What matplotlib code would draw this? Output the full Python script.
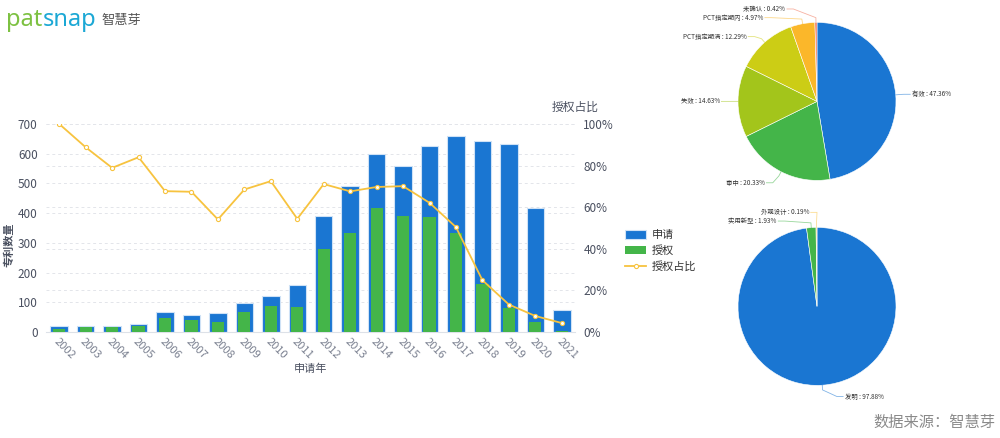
import matplotlib
matplotlib.use("Agg")
import matplotlib.pyplot as plt
import numpy as np

plt.rcParams['font.family'] = ['Noto Sans CJK SC', 'DejaVu Sans']

# data
years = [str(y) for y in range(2002, 2022)]
applications = [21, 21, 21, 26, 68, 57, 63, 97, 122, 158,
                391, 492, 598, 557, 625, 661, 643, 631, 418, 73]
granted = [11, 16, 16, 21, 46, 39, 35, 67, 88, 85,
           278, 332, 416, 391, 388, 332, 160, 82, 33, 3]
grant_ratio = [100, 88.8, 78.9, 84.0, 67.7, 67.4, 54.1, 68.5, 72.5, 54.4,
               71.1, 67.6, 69.7, 70.1, 62.1, 50.4, 24.9, 13.2, 7.7, 4.3]

status_labels = ['有效', '审中', '失效', 'PCT指定期满', 'PCT指定期内', '未确认']
status_values = [47.36, 20.33, 14.63, 12.29, 4.97, 0.42]
type_labels = ['发明', '实用新型', '外观设计']
type_values = [97.88, 1.93, 0.19]

BLUE = '#1a76d2'
GREEN = '#44b549'
LINE = '#f7c33f'
TICK = '#4a5060'
GRID = '#e3e5ea'
status_colors = [BLUE, GREEN, '#a3c51b', '#cccd15', '#fbb72a', '#f07256']
type_colors = [BLUE, GREEN, '#f9c13d']

fig = plt.figure(figsize=(10, 4.38), dpi=100)
rect = [0.046, 0.242, 0.529, 0.475]

# background axes only for the percent gridlines, so they stay behind the bars
bg = fig.add_axes(rect, zorder=0)
bg.set_xlim(0, 1)
bg.set_ylim(0, 100)
bg.set_yticks(range(0, 101, 20))
bg.grid(axis='y', color=GRID, linestyle=(0, (3, 3)), linewidth=0.7)
bg.tick_params(left=False, labelleft=False, bottom=False, labelbottom=False)
for s in bg.spines.values():
    s.set_visible(False)

# ---- bar + line chart ----
ax = fig.add_axes(rect, zorder=1)
ax.patch.set_visible(False)
x = np.arange(len(years))
ax.bar(x, applications, width=0.66, color=BLUE, edgecolor='#cfe2f6', linewidth=0.8,
       label='申请', zorder=2)
ax.bar(x, granted, width=0.46, color=GREEN, label='授权', zorder=3)
ax.set_xlim(-0.5, len(years) - 0.5)
ax.set_ylim(0, 700)
ax.set_yticks(range(0, 701, 100))
ax.grid(axis='y', color=GRID, linestyle=(0, (3, 3)), linewidth=0.7, zorder=0)
ax.set_axisbelow(True)
for s in ['top', 'right', 'left']:
    ax.spines[s].set_visible(False)
ax.spines['bottom'].set_color('#dde1e8')
ax.tick_params(axis='y', length=0, labelsize=8.5, labelcolor=TICK, pad=6)
ax.tick_params(axis='x', length=0, labelsize=8, labelcolor='#7a8090', pad=3)
ax.set_xticks(x)
ax.set_xticklabels(years, rotation=-45, ha='left', va='top', rotation_mode='anchor')
ax.set_ylabel('专利数量', fontsize=8, color=TICK, fontweight='bold')
ax.yaxis.set_label_coords(-0.058, 0.42)
ax.set_xlabel('申请年', fontsize=8, color=TICK, labelpad=2)

ax2 = ax.twinx()
ax2.set_zorder(2)
ax2.plot(x, grant_ratio, color=LINE, linewidth=1.3, marker='o', markersize=3,
         markerfacecolor='white', markeredgecolor=LINE, markeredgewidth=0.8,
         label='授权占比', zorder=4)
ax2.set_ylim(0, 100)
ax2.set_yticks(range(0, 101, 20))
ax2.set_yticklabels([f'{v}%' for v in range(0, 101, 20)])
for s in ax2.spines.values():
    s.set_visible(False)
ax2.tick_params(axis='y', length=0, labelsize=8.5, labelcolor=TICK, pad=6)
ax2.text(1.0, 1.05, '授权占比', transform=ax2.transAxes, ha='center', va='bottom',
         fontsize=8.5, color=TICK)

handles = ax.get_legend_handles_labels()[0] + ax2.get_legend_handles_labels()[0]
labels = ['申请', '授权', '授权占比']
fig.legend(handles, labels, loc='upper left', bbox_to_anchor=(0.615, 0.498),
           frameon=False, fontsize=8, handlelength=1.9, handleheight=0.85,
           labelspacing=0.45, handletextpad=0.5, labelcolor='#333333')

# ---- pies ----
def draw_pie(rect, values, labels, colors, label_pos):
    pax = fig.add_axes(rect)
    wedges, _ = pax.pie(values, colors=colors, startangle=90, counterclock=False,
                        wedgeprops=dict(edgecolor='white', linewidth=0.4))
    pax.set_aspect('equal')
    for w, lab, val, col, (tx, ty) in zip(wedges, labels, values, colors, label_pos):
        ang = np.deg2rad((w.theta1 + w.theta2) / 2)
        px, py = np.cos(ang), np.sin(ang)
        ex, ey = 1.06 * px, 1.06 * py
        right = tx > 0
        ox = tx - 0.08 if right else tx + 0.08
        pax.plot([px, ex, ox, tx], [py, ey, ty, ty], color=col, alpha=0.55, lw=0.6,
                 clip_on=False)
        pax.text(tx + (0.02 if right else -0.02), ty, f'{lab} : {val:.2f}%',
                 ha='left' if right else 'right', va='center', fontsize=4.6,
                 color='#333333')
    pax.set_xlim(-1, 1)
    pax.set_ylim(-1, 1)
    return pax

status_pos = [(1.18, 0.09), (-0.64, -1.03), (-1.21, 0.0), (-0.87, 0.82),
              (-0.66, 1.06), (-0.38, 1.17)]
draw_pie([0.738, 0.588, 0.158, 0.361], status_values, status_labels, status_colors,
         status_pos)
type_pos = [(0.33, -1.14), (-0.49, 1.08), (-0.08, 1.19)]
draw_pie([0.738, 0.120, 0.158, 0.361], type_values, type_labels, type_colors, type_pos)

# ---- logo and source ----
t_pat = fig.text(0.006, 0.955, 'pat', fontsize=17, color='#7dc142', ha='left',
                 va='center', family='Noto Sans')
fig.canvas.draw()
bb = t_pat.get_window_extent()
fig.text(bb.x1 / fig.bbox.width, 0.955, 'snap', fontsize=17, color='#1ca8d5',
         ha='left', va='center', family='Noto Sans')
fig.text(0.101, 0.953, '智慧芽', fontsize=9.5, color='#555555', ha='left', va='center')
fig.text(0.995, 0.035, '数据来源：智慧芽', fontsize=11, color='#8a8a8a', ha='right',
         va='center')

fig.savefig('out.png', dpi=100, facecolor='white')
